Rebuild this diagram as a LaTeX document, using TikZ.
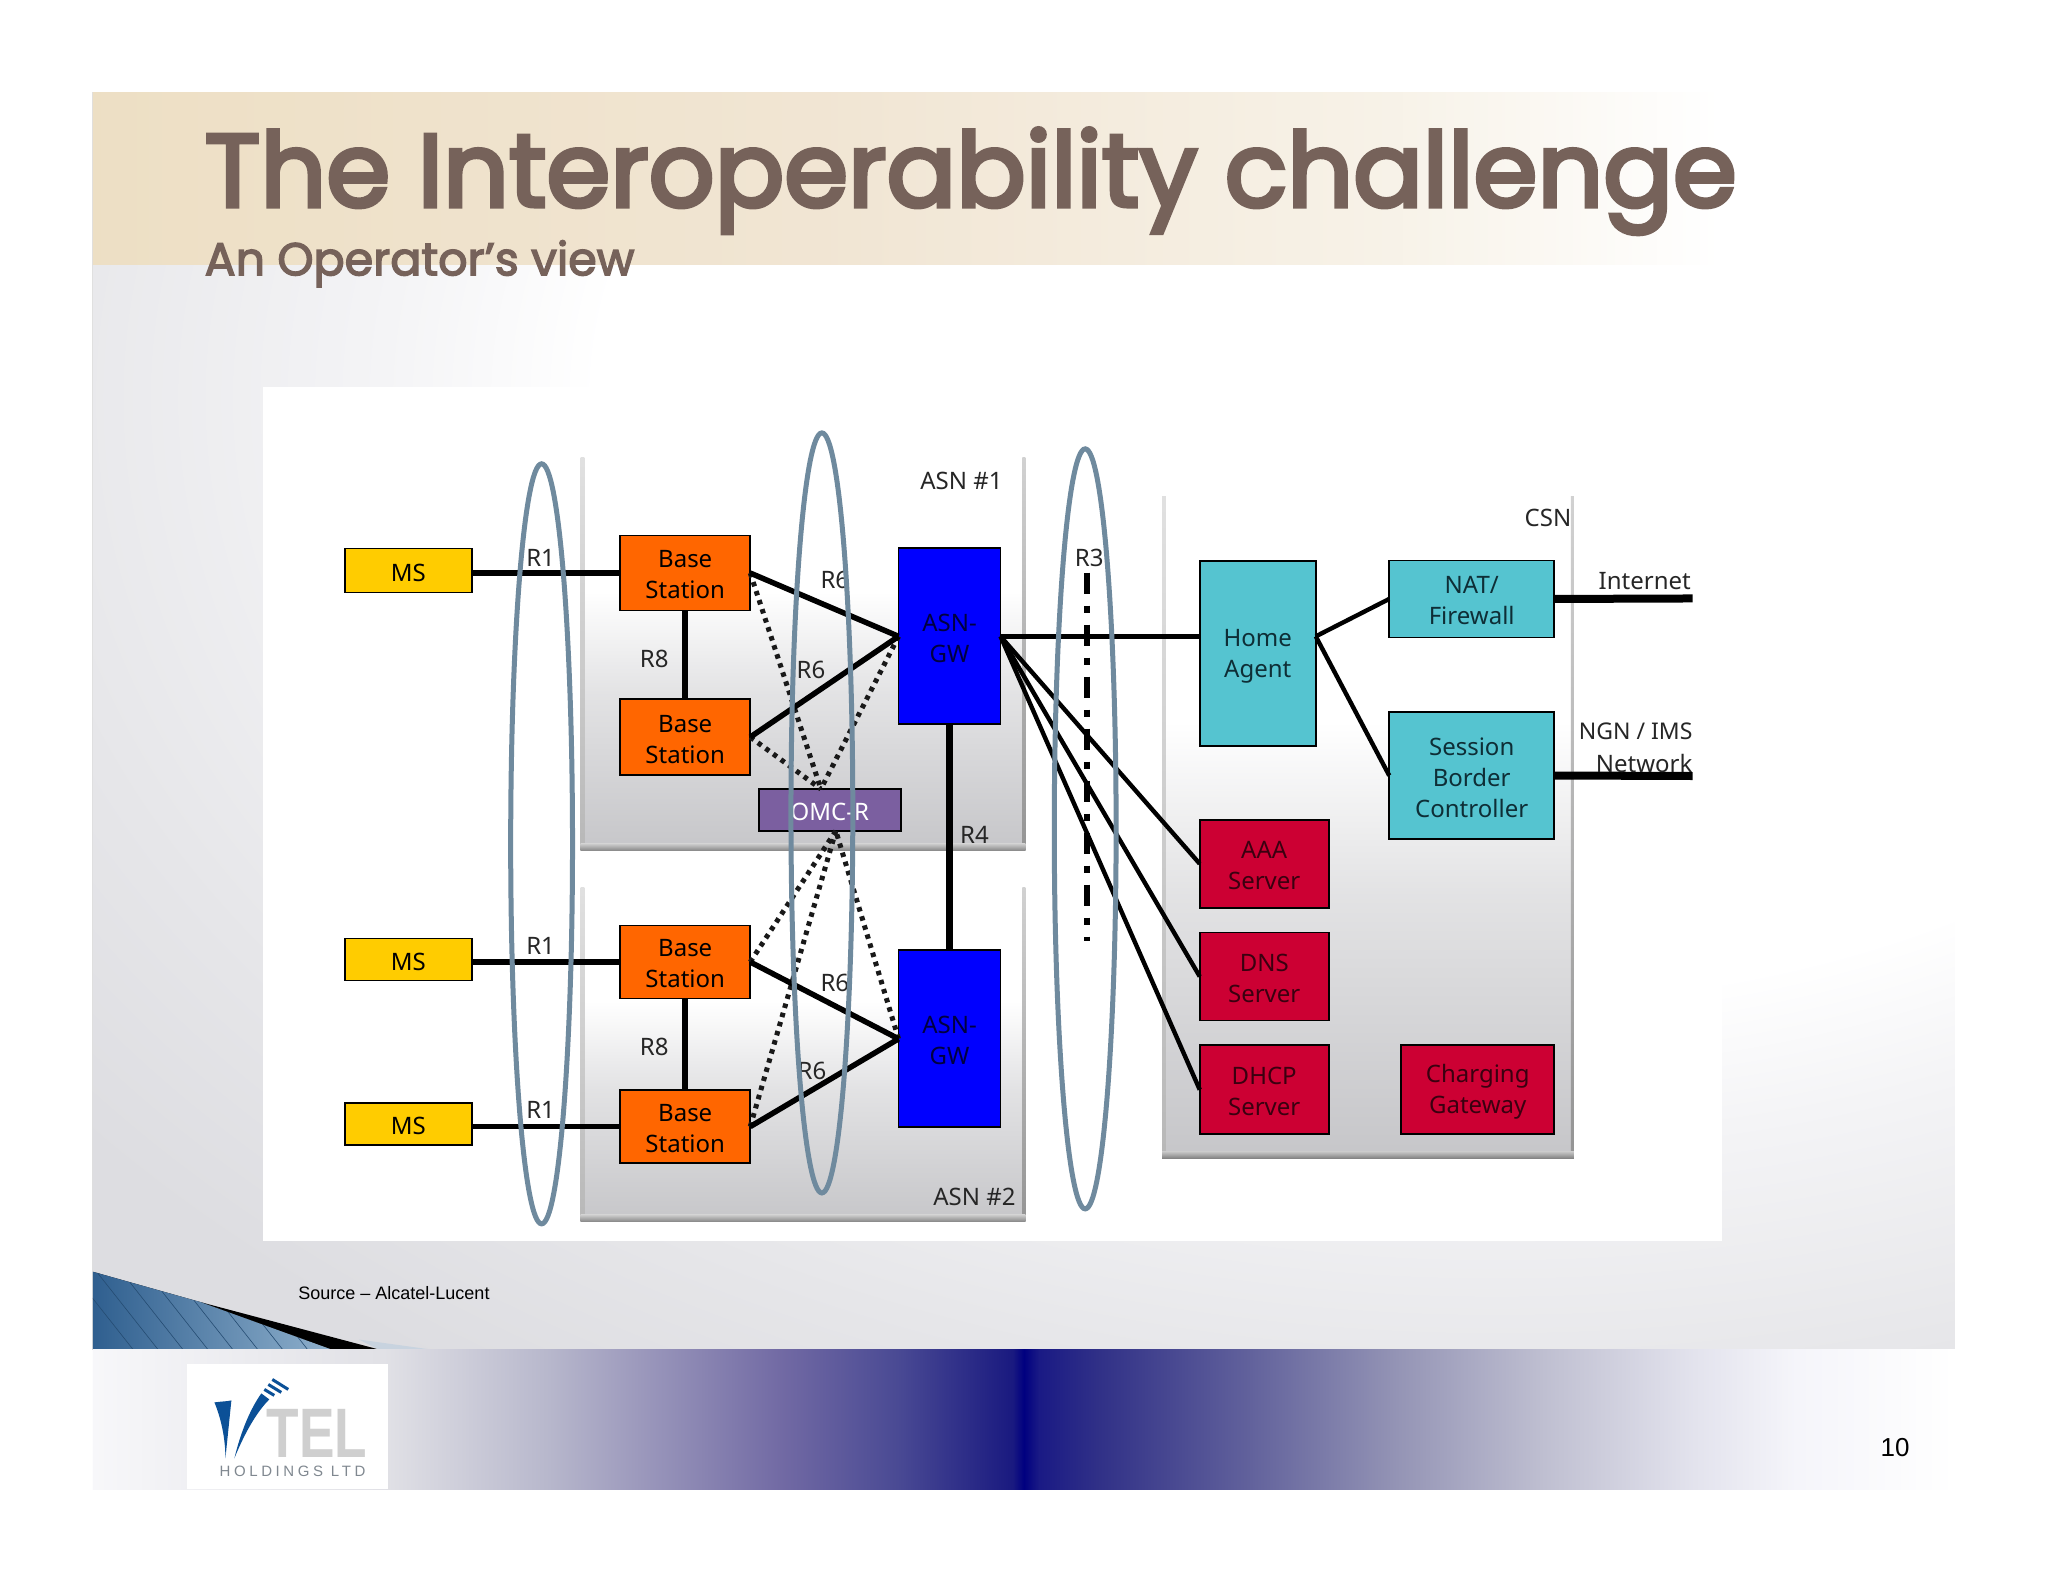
\documentclass[tikz,border=0pt]{standalone}
\usepackage{fontspec}
\usepackage{graphicx}
\setmainfont{Liberation Sans}
\newfontfamily\diagfont{Noto Sans}
\newfontfamily\titlefont[FakeBold=4]{Poppins}
\newfontfamily\subtitlefont[FakeBold=3]{Poppins}
\newfontfamily\logofont[LetterSpace=24]{Liberation Sans}
\usetikzlibrary{calc}
\definecolor{bgouter}{HTML}{DDDDE1}
\definecolor{bgmid}{HTML}{E6E6E9}
\definecolor{bginner}{HTML}{F4F4F6}
\definecolor{bluew}{HTML}{2F5F8F}
\definecolor{bluee}{HTML}{8FB0CC}
\definecolor{titlebrown}{HTML}{76625A}
\definecolor{ringc}{HTML}{6F8A9E}
\definecolor{msc}{HTML}{FFCC00}
\definecolor{bsc}{HTML}{FF6600}
\definecolor{gwc}{HTML}{0000FF}
\definecolor{omcc}{HTML}{7B5FA0}
\definecolor{tealc}{HTML}{55C4D0}
\definecolor{redc}{HTML}{CC0033}
\definecolor{panelc}{HTML}{C6C6C9}
\definecolor{logoblue}{HTML}{0B5097}
\definecolor{logogrey}{HTML}{CFCFCF}
\definecolor{logotext}{HTML}{808890}
\definecolor{darkred}{HTML}{3A0010}
\definecolor{darkteal}{HTML}{0E2E36}
\definecolor{darkblue}{HTML}{000040}
\pgfdeclareradialshading{bgshade}{\pgfpoint{0bp}{0bp}}{color(0bp)=(white);color(7.5bp)=(white);color(9.3bp)=(bginner);color(12.5bp)=(bgmid);color(15bp)=(bgouter);color(50bp)=(bgouter)}
\pgfdeclarehorizontalshading{bandshade}{100bp}{
 rgb(0bp)=(.97,.97,.98);rgb(25bp)=(.97,.97,.98);
 rgb(32.9bp)=(.88,.88,.90);rgb(37.2bp)=(.72,.72,.80);rgb(43.6bp)=(.44,.41,.64);rgb(46.6bp)=(.29,.29,.58);
 rgb(49.7bp)=(.10,.10,.50);rgb(50bp)=(0,0,.5);rgb(50.4bp)=(.10,.10,.52);rgb(52bp)=(.19,.19,.53);rgb(56bp)=(.38,.38,.61);
 rgb(60bp)=(.58,.58,.71);rgb(64bp)=(.75,.75,.82);rgb(68bp)=(.89,.89,.93);rgb(70.7bp)=(.96,.96,.98);
 color(75bp)=(white);color(100bp)=(white)}
\pgfdeclarehorizontalshading{titleshade}{100bp}{
 rgb(0bp)=(.93,.875,.77);rgb(25bp)=(.93,.875,.77);rgb(45bp)=(.945,.90,.83);rgb(60bp)=(.97,.95,.91);color(68.7bp)=(white);color(100bp)=(white)}
\pgfdeclareverticalshading{panelshade}{100bp}{
 color(0bp)=(panelc);color(25bp)=(panelc);color(45bp)=(panelc!50!white);color(58bp)=(white);color(75bp)=(white);color(100bp)=(white)}
\tikzset{
 boxbase/.style={draw=black,line width=1.8pt,inner sep=0pt,outer sep=0pt,align=center,font=\diagfont\fontsize{24}{31}\selectfont,text=black},
 msbox/.style={boxbase,fill=msc},
 bsbox/.style={boxbase,fill=bsc},
 gwbox/.style={boxbase,fill=gwc,text=darkblue},
 omcbox/.style={boxbase,fill=omcc,text=white},
 tealbox/.style={boxbase,fill=tealc,text=darkteal},
 redbox/.style={boxbase,fill=redc,text=darkred},
 label/.style={font=\diagfont\fontsize{24}{30}\selectfont,text=black!85,inner sep=0pt,align=center},
 link/.style={draw=black,line width=5.5pt},
 heavy/.style={draw=black,line width=7pt},
 thinlink/.style={draw=black,line width=4.4pt},
 dotlink/.style={draw=black!90,line width=5pt,dash pattern=on 4.5pt off 5pt},
 ring/.style={draw=ringc,line width=5pt},
}
\newcommand{\bx}[7]{%
 \pgfmathsetmacro\bxcx{(#3+#5)/2}\pgfmathsetmacro\bxcy{(#4+#6)/2}%
 \pgfmathsetmacro\bxty{\bxcy+2}%
 \pgfmathsetmacro\bxw{#5-#3}\pgfmathsetmacro\bxh{#6-#4}%
 \node[#2,minimum width=\bxw pt,minimum height=\bxh pt] (#1) at (\bxcx,\bxcy) {};
 \node[#2,draw=none,fill=none] (#1-t) at (\bxcx,\bxty) {#7};}
\newcommand{\panel}[4]{%
 \fill[shading=panelshade] (#1,#2) rectangle (#3,#4);
 \fill[top color=black!12,bottom color=black!28] (#1,#2) rectangle ({#1+4},#4);
 \fill[top color=black!18,bottom color=black!42] ({#3-3},#2) rectangle (#3,#4);
 \fill[top color=black!20,bottom color=black!48] (#1,{#4-7}) rectangle (#3,#4);
}
\begin{document}
\begin{tikzpicture}[x=0.9974pt,y=-0.9974pt]
\useasboundingbox (0,0) rectangle (2053.3,1586.1);
\fill[white] (0,0) rectangle (2053.3,1586.1);
% slide background
\begin{scope}
 \clip (93,93) rectangle (1960,1353);
 \fill[shading=bgshade] (1500,400) ellipse [x radius=3000,y radius=2000];
\end{scope}
\fill[shading=titleshade] (93,93) rectangle (1960,265);
% bottom-left wedge
\begin{scope}
 \clip (93,1275) -- (203,1306) -- (333,1353) -- (93,1353) -- cycle;
 \fill[left color=bluew,right color=bluee] (93,1271) rectangle (333,1353);
 \foreach \hx in {60,85,...,340} {\draw[bluew!80!black,line width=0.6pt] (\hx,1260) -- ({\hx+75},1355);}
\end{scope}
\fill[black] (203,1306) -- (380,1353) -- (333,1353) -- cycle;
\fill[bluee!35!bgmid] (360,1343) -- (432,1353) -- (380,1353) -- cycle;
% bottom band
\fill[shading=bandshade] (93,1353) rectangle (1960,1493);
\fill[white] (187,1368) rectangle (389,1493);
% logo
\node[inner sep=0pt,anchor=base west,text=logogrey] (teltext) at (267,1461) {\scalebox{0.76}[1]{\fontsize{70}{70}\selectfont\bfseries TEL}};
\fill[logoblue] (215,1406) .. controls (222,1405) and (228,1405) .. (232,1404) .. controls (230,1423) and (228,1443) .. (226,1462) .. controls (226,1443) and (222,1423) .. (215,1406) -- cycle;
\fill[logoblue] (235,1462) .. controls (242,1433) and (252,1411) .. (262,1397) -- (270,1403) .. controls (258,1415) and (246,1435) .. (235,1462) -- cycle;
\draw[logoblue,line width=3pt] (265,1393) -- (275,1399);
\draw[logoblue,line width=3pt] (269,1388) -- (282,1396);
\draw[logoblue,line width=3pt] (273,1383) -- (289,1393);
\node[inner sep=0pt,anchor=base west,text=logotext] (holdtext) at (220,1480) {\logofont\fontsize{15}{15}\selectfont HOLDINGS LTD};
% title
\node[inner sep=0pt,anchor=base west,text=titlebrown] (title) at (205,207) {\titlefont\fontsize{103}{103}\selectfont The Interoperability challenge};
\node[inner sep=0pt,anchor=base west,text=titlebrown] (subtitle) at (205,276) {\subtitlefont\fontsize{46}{46}\selectfont An Operator’s view};
% picture panel
\fill[white] (264,388) rectangle (1726,1244);
\panel{582}{459}{1028}{853}
\panel{582}{890}{1028}{1225}
\panel{1165}{498}{1578}{1161}
% nodes
\bx{ms1}{msbox}{346}{550}{473}{594}{MS}
\bx{ms2}{msbox}{346}{941}{473}{983}{MS}
\bx{ms3}{msbox}{346}{1106}{473}{1148}{MS}
\bx{bs1}{bsbox}{622}{537}{752}{612}{Base\\Station}
\bx{bs2}{bsbox}{622}{701}{752}{777}{Base\\Station}
\bx{bs3}{bsbox}{622}{928}{752}{1001}{Base\\Station}
\bx{bs4}{bsbox}{622}{1093}{752}{1166}{Base\\Station}
\bx{gw1}{gwbox}{901}{550}{1003}{726}{ASN-\\GW}
\bx{gw2}{gwbox}{901}{953}{1003}{1130}{ASN-\\GW}
\bx{omc}{omcbox}{761}{791}{903}{833}{OMC-R}
\bx{ha}{tealbox}{1203}{563}{1319}{748}{Home\\Agent}
\bx{nat}{tealbox}{1393}{562}{1558}{639}{NAT/\\Firewall}
\bx{sbc}{tealbox}{1393}{714}{1558}{841}{Session\\Border\\Controller}
\bx{aaa}{redbox}{1203}{822}{1332}{910}{AAA\\Server}
\bx{dns}{redbox}{1203}{935}{1332}{1023}{DNS\\Server}
\bx{dhcp}{redbox}{1203}{1048}{1332}{1137}{DHCP\\Server}
\bx{chg}{redbox}{1405}{1048}{1558}{1137}{Charging\\Gateway}
\coordinate (omct) at (823,791);
\coordinate (omcb) at (838,833);
\coordinate (inet) at (1697,600);
\coordinate (ngn) at (1697,778);
\coordinate (rtop) at (1090,574);
\coordinate (rbot) at (1090,943);
\coordinate (hain) at (ha.west |- gw1.east);
\coordinate (haout) at (ha.east |- gw1.east);
% connectors
\draw[link] (ms1.east |- bs1.west) -- (bs1.west);
\draw[link] (ms2.east |- bs3.west) -- (bs3.west);
\draw[link] (ms3.east |- bs4.west) -- (bs4.west);
\draw[link] (bs1.south) -- (bs2.north);
\draw[link] (bs3.south) -- (bs4.north);
\draw[heavy] (gw1.south) -- (gw2.north);
\draw[dotlink] (bs1.east) -- (omct);
\draw[dotlink] (bs2.east) -- (omct);
\draw[dotlink] (gw1.west) -- (omct);
\draw[dotlink] (bs3.east) -- (omcb);
\draw[dotlink] (bs4.east) -- (omcb);
\draw[dotlink] (gw2.west) -- (omcb);
\draw[link] (bs1.east) -- (gw1.west);
\draw[link] (bs2.east) -- (gw1.west);
\draw[link] (bs3.east) -- (gw2.west);
\draw[link] (bs4.east) -- (gw2.west);
\draw[draw=black,line width=6.5pt,dash pattern=on 21pt off 12pt on 7pt off 12pt] (rtop) -- (rbot);
\draw[link] (gw1.east) -- (hain);
\draw[thinlink] (gw1.east) -- (aaa.west);
\draw[thinlink] (gw1.east) -- (dns.west);
\draw[thinlink] (gw1.east) -- (dhcp.west);
\draw[thinlink] (haout) -- (nat.west);
\draw[thinlink] (haout) -- (sbc.west);
\draw[heavy,line width=8pt] (nat.east) -- (inet);
\draw[heavy,line width=8pt] (sbc.east) -- (ngn);
% labels
\node[label] (lr1a) at (542,559) {R1};
\node[label] (lr1b) at (542,948) {R1};
\node[label] (lr1c) at (542,1113) {R1};
\node[label] (lr3) at (1092,559) {R3};
\node[label] (lr6a) at (837,581) {R6};
\node[label] (lr6b) at (813,672) {R6};
\node[label] (lr6c) at (837,985) {R6};
\node[label] (lr6d) at (814,1074) {R6};
\node[label] (lr8a) at (656,661) {R8};
\node[label] (lr8b) at (656,1050) {R8};
\node[label] (lr4) at (977,837) {R4};
\node[label] (lasn1) at (964,482) {ASN \#1};
\node[label] (lasn2) at (977,1200) {ASN \#2};
\node[label] (lcsn) at (1552,519) {CSN};
\node[label] (linet) at (1649,583) {Internet};
\node[label,anchor=east,font=\diagfont\fontsize{23}{30}\selectfont] (lngn) at (1697,733) {NGN / IMS};
\node[label,anchor=east] (lnet) at (1697,765) {Network};
% rings
\draw[ring] (543,846) ellipse [x radius=31,y radius=381];
\draw[ring] (824,815) ellipse [x radius=31,y radius=381];
\draw[ring] (1088,831) ellipse [x radius=31,y radius=381];
% footer text
\node[inner sep=0pt,anchor=west,font=\fontsize{18}{22}\selectfont] (src) at (299,1296) {Source – Alcatel-Lucent};
\node[inner sep=0pt,font=\fontsize{26}{30}\selectfont] (pg) at (1900,1451) {10};
\end{tikzpicture}
\end{document}
